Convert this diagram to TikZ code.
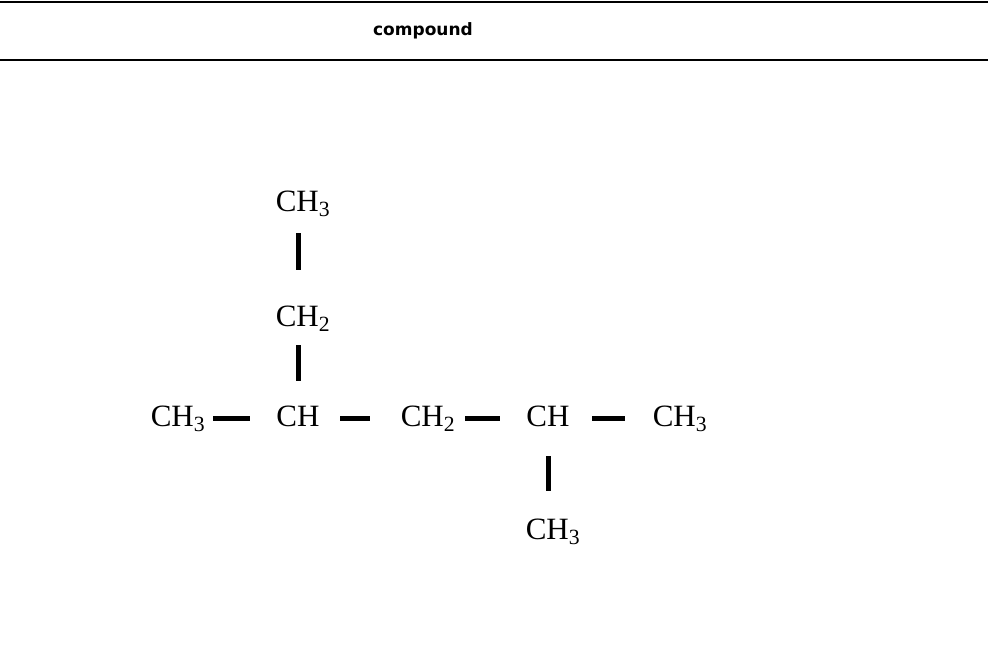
\documentclass[tikz,border=0pt]{standalone}
\usepackage{fontspec}
\setmainfont{Liberation Serif}
\newfontfamily\hdr{DejaVu Sans}
\begin{document}
\begin{tikzpicture}[x=1pt,y=-1pt,
  grp/.style={font=\fontsize{31}{31}\selectfont, inner sep=0pt, anchor=base},
  bond/.style={line width=5pt}]
\useasboundingbox (0,0) rectangle (988,648);
\draw[line width=1.2pt] (0,2) -- (988,2);
\draw[line width=1.2pt] (0,60) -- (988,60);
\node[font=\hdr\bfseries\fontsize{17}{17}\selectfont] (h) at (423,31) {compound};
\node[grp] (c1) at (178,426) {CH\textsubscript{3}};
\node[grp] (c2) at (298,426) {CH};
\node[grp] (c3) at (428,426) {CH\textsubscript{2}};
\node[grp] (c4) at (548,426) {CH};
\node[grp] (c5) at (680,426) {CH\textsubscript{3}};
\node[grp] (t1) at (303,211) {CH\textsubscript{3}};
\node[grp] (t2) at (303,326) {CH\textsubscript{2}};
\node[grp] (b1) at (553,539) {CH\textsubscript{3}};
\draw[bond] (c1.east |- 0,418) ++(8,0) coordinate (p1) -- (250,418);
\draw[bond] (340,418) -- (370,418);
\draw[bond] (465,418) -- (500,418);
\draw[bond] (592,418) -- (625,418);
\draw[bond] (298,233) -- (298,270);
\draw[bond] (298,345) -- (298,381);
\draw[bond] (548,456) -- (548,491);
\end{tikzpicture}
\end{document}
